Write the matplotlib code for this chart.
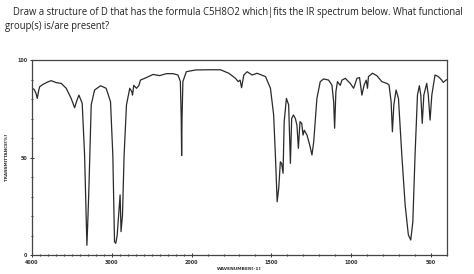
import numpy as np
import matplotlib
matplotlib.use("Agg")
import matplotlib.pyplot as plt
from matplotlib.ticker import FixedLocator, MultipleLocator

# IR spectrum: wavenumber (cm-1) and % transmittance
wavenumber = [4000, 3975, 3950, 3934, 3915, 3904, 3862, 3800, 3759, 3696, 3634, 3571,
              3509, 3466, 3440, 3412, 3371, 3341, 3325, 3312, 3300, 3287, 3258, 3216,
              3141, 3071, 3016, 2987, 2966, 2950, 2933, 2908, 2896, 2884, 2866, 2846,
              2816, 2775, 2750, 2740, 2725, 2691, 2660, 2641, 2566, 2483, 2400, 2316,
              2233, 2171, 2141, 2130, 2125, 2120, 2109, 2066, 1975, 1892, 1819, 1767,
              1725, 1708, 1696, 1687, 1673, 1652, 1621, 1590, 1537, 1506, 1486, 1475,
              1464, 1454, 1444, 1436, 1427, 1420, 1406, 1392, 1386, 1381, 1373, 1362,
              1350, 1340, 1331, 1321, 1310, 1302, 1294, 1277, 1260, 1246, 1235, 1215,
              1194, 1173, 1142, 1121, 1110, 1104, 1096, 1086, 1069, 1058, 1037, 1006,
              985, 964, 948, 933, 919, 906, 898, 892, 867, 840, 808, 777, 763, 750,
              742, 733, 719, 704, 683, 662, 642, 627, 614, 600, 585, 573, 564, 555,
              545, 527, 517, 506, 495, 475, 454, 433, 423, 406, 400]
transmittance = [85.5, 85, 83, 80.3, 84.5, 86.3, 87.5, 88.8, 89.4, 88.4, 88, 85.5,
                 80.3, 75.5, 79, 82, 77.8, 51.3, 25, 5, 18, 34, 77, 84.6,
                 86.8, 85.5, 78.6, 51, 6.8, 6, 10, 24, 30.8, 12, 20.5, 51,
                 77, 85.5, 83.8, 82, 87, 85.5, 87, 89.7, 91, 92.6, 92, 93,
                 93, 92.3, 89, 70, 51, 70, 89, 94, 94.9, 95, 95, 93.2,
                 90.6, 88.9, 89.7, 85.8, 92.3, 94, 92.3, 93.2, 91.5, 85.5, 71.8, 51,
                 27.3, 34.4, 47.8, 47, 41.9, 68.4, 80.3, 77, 59.8, 47, 70, 71.8,
                 70, 66.5, 54.7, 68.4, 67.5, 61.5, 64, 61.5, 56.4, 51.3, 58, 80.3,
                 88.9, 90.3, 89.7, 87.2, 78.6, 65, 83.8, 88.9, 87, 89.7, 90.6, 88,
                 85.5, 90.6, 91, 82, 87.2, 89.7, 85.5, 91.5, 93.2, 92, 88.9, 88, 87.2, 78.6,
                 63.2, 77, 84.6, 80.3, 51.3, 25.6, 10.3, 7.7, 17, 51.3, 82, 86.8, 82, 67.5,
                 82, 88, 82, 69.2, 82, 92.3, 91.5, 89.7, 88.5, 89.7, 90]

x_major = [4000, 3000, 2000, 1500, 1000, 500]
x_labels = ["4000", "3000", "2000", "1500", "1000", "500"]
y_major = [0, 50, 100]

line1 = "Draw a structure of D that has the formula C5H8O2 which|fits the IR spectrum below. What functional"
line2 = "group(s) is/are present?"


def fwd(w):
    w = np.asarray(w, dtype=float)
    return np.where(w > 2000, 2000 + (w - 2000) * 0.5, w)


def inv(p):
    p = np.asarray(p, dtype=float)
    return np.where(p > 2000, 2000 + (p - 2000) * 2.0, p)


fig = plt.figure(figsize=(4.74, 2.74), dpi=100)
ax = fig.add_axes([0.0675, 0.0693, 0.8755, 0.7117])

ax.set_xscale("function", functions=(fwd, inv))
ax.plot(wavenumber, transmittance, color="#2a2a2a", linewidth=0.9)
ax.set_xlim(4000, 400)
ax.set_ylim(0, 100)

ax.xaxis.set_major_locator(FixedLocator(x_major))
ax.xaxis.set_minor_locator(FixedLocator(np.arange(4000, 399, -100)))
ax.set_xticklabels(x_labels, fontsize=3.5, fontweight="bold", color="#333333")
ax.yaxis.set_major_locator(FixedLocator(y_major))
ax.yaxis.set_minor_locator(MultipleLocator(10))
ax.set_yticklabels(["0", "50", "100"], fontsize=3.5, fontweight="bold", color="#333333")
ax.tick_params(which="both", direction="inout", length=2.5, width=0.7, color="#333333", pad=2)
ax.tick_params(which="minor", length=1.8)

for s in ax.spines.values():
    s.set_color("#444444")
    s.set_linewidth(0.9)

ax.set_xlabel("WAVENUMBER[-1]", fontsize=3.2, fontweight="bold", color="#333333", labelpad=2)
ax.set_ylabel("TRANSMITTANCE[%]", fontsize=3.0, fontweight="bold", color="#333333", labelpad=6)

# question text; shrink the font until the first line spans the same width as in the picture
fam = ["Open Sans", "DejaVu Sans"]
t1 = fig.text(13 / 474, 1 - 12 / 274, line1, fontsize=8, family=fam, color="#222222", va="center", ha="left")
t2 = fig.text(5 / 474, 1 - 27 / 274, line2, fontsize=8, family=fam, color="#222222", va="center", ha="left")
renderer = fig.canvas.get_renderer()
w = t1.get_window_extent(renderer).width
size = 8 * 456 / w
t1.set_fontsize(size)
t2.set_fontsize(size)

fig.savefig("out.png", dpi=100)
